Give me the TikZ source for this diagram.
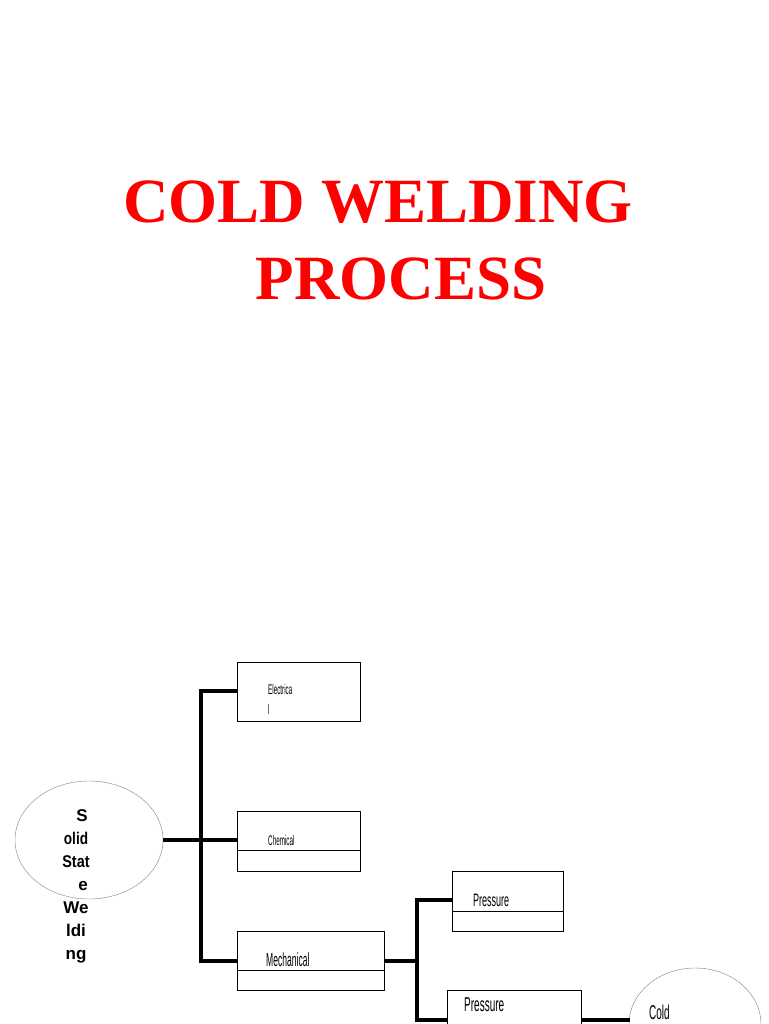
\documentclass[tikz,border=0pt]{standalone}
\usetikzlibrary{shapes.geometric}
\usepackage{fontspec}
\setmainfont{Liberation Serif}
\newfontfamily\sans{Liberation Sans}
\begin{document}
\begin{tikzpicture}[x=1pt,y=-1pt,
  box/.style={draw,line width=0.8pt,inner sep=0pt},
  bar/.style={line width=4.5pt},
  lbl/.style={inner sep=0pt,anchor=west,font=\sans},
  title/.style={text=red,font=\fontsize{63}{70}\selectfont\bfseries}]
\useasboundingbox (0,0) rectangle (768,1024);
\node[title] (t1) at (378,202) {COLD WELDING};
\node[title] (t2) at (401,279) {PROCESS};
% ellipse
\node[draw=gray,ellipse,minimum width=148pt,minimum height=118pt,inner sep=0pt] (sw) at (89,840) {};
\node[font=\sans\bfseries\fontsize{17}{23}\selectfont,align=center,inner sep=0pt] (swt) at (76,886)
 {\hspace*{12pt}S\\ \scalebox{0.8}[1]{olid}\\ \scalebox{0.85}[1]{Stat}\\ \hspace*{14pt}e\\ We\\ ldi\\ ng};
% boxes
\draw[box] (237,662) rectangle (360,721);
\coordinate (el) at (237,691);
\node[lbl] (elt) at (268,700) {\scalebox{0.45}[1]{\fontsize{14}{20}\selectfont\begin{tabular}{@{}l@{}}Electrica\\ l\end{tabular}}};
\draw[box] (237,811) rectangle (360,871); \draw[box] (237,850) -- (360,850);
\coordinate (ch) at (237,840);
\node[lbl] (cht) at (268,840) {\scalebox{0.45}[1]{\fontsize{14}{15}\selectfont Chemical}};
\draw[box] (237,931) rectangle (384,990); \draw[box] (237,970) -- (384,970);
\coordinate (me) at (237,961); \coordinate (mer) at (384,961);
\node[lbl] (met) at (266,960) {\scalebox{0.45}[1]{\fontsize{19}{20}\selectfont Mechanical}};
\draw[box] (452,871) rectangle (563,931); \draw[box] (452,911) -- (563,911);
\coordinate (p1) at (452,900);
\node[lbl] (p1t) at (473,900) {\scalebox{0.5}[1]{\fontsize{18}{20}\selectfont Pressure}};
\draw[box] (447,990) rectangle (581,1030);
\coordinate (p2) at (447,1020); \coordinate (p2r) at (581,1020);
\node[lbl] (p2t) at (464,1005) {\scalebox{0.5}[1]{\fontsize{20}{20}\selectfont Pressure}};
\node[draw=gray,ellipse,minimum width=132pt,minimum height=112pt,inner sep=0pt] (cold) at (695,1024) {};
\coordinate (cw) at (630,1020);
\node[lbl] (coldt) at (649,1012) {\scalebox{0.5}[1]{\fontsize{20}{20}\selectfont Cold}};
% connectors
\draw[bar] (sw.east) -- (ch);
\draw[bar] (el) -| (201,961) -- (me);
\draw[bar] (mer) -- (417,961);
\draw[bar] (p1) -| (417,1020) -- (p2);
\draw[bar] (p2r) -- (cw);
\end{tikzpicture}
\end{document}
